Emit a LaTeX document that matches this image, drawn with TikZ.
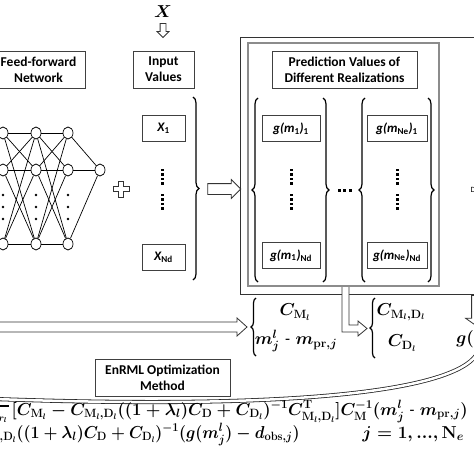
\documentclass[tikz,border=0pt]{standalone}
\usepackage{fontspec}
\setmainfont{Carlito}
\usetikzlibrary{arrows}
\usetikzlibrary{positioning}
\usetikzlibrary{shapes.geometric}
\usetikzlibrary{shapes.arrows}
\usetikzlibrary{decorations.pathreplacing}

\begin{document}
\begin{tikzpicture}[x=1pt,y=-1pt,thick,
    main node/.style={ellipse,draw,fill=white,line width=0.7pt,minimum width=10pt,minimum height=12pt,inner sep=0pt},
    label box/.style={draw=black!75,line width=0.8pt,font=\fontsize{13.5}{16}\selectfont\bfseries,align=center,minimum height=37pt,inner sep=1pt},
    value box/.style={draw=black!75,line width=0.8pt,font=\fontsize{13}{15}\selectfont\bfseries,minimum height=26pt,inner sep=1pt},
    eq node/.style={font=\fontsize{16.5}{19}\selectfont\boldmath,inner sep=0pt},
    hollow/.style={draw=black!80,line width=0.8pt,fill=white},
    hollow arrow/.style={single arrow,draw=black!80,line width=0.8pt,fill=white,single arrow head extend=4pt,inner sep=5pt},
    big brace/.style={decorate,decoration={brace,amplitude=6pt},line width=1.2pt}]
  \useasboundingbox (0,0) rectangle (474,474);

  % input and boxes on top
  \node[font=\fontsize{17}{20}\selectfont\boldmath] (x) at (163,12) {$X$};
  \node[hollow arrow,inner sep=2.5pt,single arrow head extend=3pt,minimum height=14pt,shape border rotate=270] (xarrow) at (163,29) {};
  \node[label box,minimum width=93pt] (ffn) at (38.5,69.5) {Feed-forward\\Network};
  \node[label box,minimum width=61pt] (inp) at (163.5,69.5) {Input\\Values};
  \node[label box,minimum width=145pt] (pred) at (344.5,69.5) {Prediction Values of\\Different Realizations};

  % network
  \node[main node] (a1) at (3,133) {};
  \node[main node] (a2) at (3,170) {};
  \node[main node] (a3) at (3,244) {};
  \node[main node] (b1) at (36,133) {};
  \node[main node] (b2) at (36,170) {};
  \node[main node] (b3) at (36,244) {};
  \node[main node] (c1) at (68,133) {};
  \node[main node] (c2) at (68,170) {};
  \node[main node] (c3) at (68,244) {};
  \node[main node] (out) at (100,170) {};
  \path[-,line width=0.7pt] (a1) edge (b1) edge (b2) edge (b3);
  \path[-,line width=0.7pt] (a2) edge (b1) edge (b2) edge (b3);
  \path[-,line width=0.7pt] (a3) edge (b1) edge (b2) edge (b3);
  \path[-,line width=0.7pt] (b1) edge (c1) edge (c2) edge (c3);
  \path[-,line width=0.7pt] (b2) edge (c1) edge (c2) edge (c3);
  \path[-,line width=0.7pt] (b3) edge (c1) edge (c2) edge (c3);
  \path[-,line width=0.7pt] (c1) edge (out);
  \path[-,line width=0.7pt] (c2) edge (out);
  \path[-,line width=0.7pt] (c3) edge (out);
  \fill (3,195) circle (1.3) (3,207) circle (1.3) (3,219) circle (1.3);
  \fill (36,195) circle (1.3) (36,207) circle (1.3) (36,219) circle (1.3);
  \fill (68,195) circle (1.3) (68,207) circle (1.3) (68,219) circle (1.3);

  % plus
  \draw[hollow] (118.5,181) -- (123.5,181) -- (123.5,186.5) -- (129,186.5) -- (129,191.5) -- (123.5,191.5)
     -- (123.5,197) -- (118.5,197) -- (118.5,191.5) -- (113,191.5) -- (113,186.5) -- (118.5,186.5) -- cycle;

  % input values
  \node[value box,minimum width=43pt] (x1) at (163.5,128) {\itshape X\textsubscript{\upshape 1}};
  \node[value box,minimum width=43pt] (xnd) at (163.5,257) {\itshape X\textsubscript{\upshape Nd}};
  \foreach \y in {170,174.5,179,183.5,195,199.5,204,208.5}
    \fill (161,\y-1.3) rectangle (164,\y+1.3);
  \draw[big brace] (193,97) -- (193,280);
  \node[hollow arrow,minimum height=33pt] (rarrow) at (221.5,189) {};

  % realizations
  \draw[line width=1pt,black!80] (480,37) -- (240,37) -- (240,294) -- (480,294);
  \draw[line width=1.4pt,black!45] (248,43) rectangle (439,286);
  \node[value box,minimum width=58pt] (g1a) at (291,128.5) {\itshape g(m\textsubscript{\upshape 1})\textsubscript{\upshape 1}};
  \node[value box,minimum width=58pt] (g1b) at (291,255.5) {\itshape g(m\textsubscript{\upshape 1})\textsubscript{\upshape Nd}};
  \node[value box,minimum width=60pt] (g2a) at (397,128.5) {\itshape g(m\textsubscript{\upshape Ne})\textsubscript{\upshape 1}};
  \node[value box,minimum width=60pt] (g2b) at (397,255.5) {\itshape g(m\textsubscript{\upshape Ne})\textsubscript{\upshape Nd}};
  \foreach \y in {170,174.5,179,183.5,195,199.5,204,208.5}
    \fill (289.5,\y-1.3) rectangle (292.5,\y+1.3);
  \foreach \y in {170,174.5,179,183.5,195,199.5,204,208.5}
    \fill (395.5,\y-1.3) rectangle (398.5,\y+1.3);
  \foreach \x in {339,344.5,350}
    \fill (\x-1.5,188.5) rectangle (\x+1.5,191.5);
  \draw[big brace] (258,282) -- (258,98);
  \draw[big brace] (323,98) -- (323,282);
  \draw[big brace] (365,282) -- (365,98);
  \draw[big brace] (428,98) -- (428,282);
  \node[font=\fontsize{8}{9}\selectfont,anchor=west] (dtext) at (467,190) {D};

  % covariances
  \draw[hollow] (-5,322) -- (237,322) -- (237,318) -- (247,327) -- (237,336) -- (237,332) -- (-5,332);
  \draw[hollow] (342,287) -- (342,332) -- (358,332) -- (358,336) -- (367,328.5) -- (358,321) -- (358,325) -- (349,325) -- (349,287);
  \draw[big brace,decoration={brace,amplitude=5pt}] (256,356) -- (256,298);
  \draw[big brace,decoration={brace,amplitude=5pt}] (375,358) -- (375,298);
  \node[eq node] (cm) at (295,312) {$C_{\mathbf{M}_l}$};
  \node[eq node] (mdiff) at (296,341) {$m_j^l\;\mbox{-}\;m_{\mathbf{pr},j}$};
  \node[eq node] (cmd) at (401,312) {$C_{\mathbf{M}_l,\mathbf{D}_l}$};
  \node[eq node] (cd) at (402,343) {$C_{\mathbf{D}_l}$};
  \node[hollow arrow,inner sep=4pt,single arrow head extend=6pt,single arrow tip angle=110,minimum height=30pt,shape border rotate=270] (darrow) at (476,309) {};
  \node[eq node,anchor=west] (gm) at (456,340) {$g(m_j^l)$};

  % optimization
  \node[label box,minimum width=135pt] (enrml) at (162.5,377.5) {EnRML Optimization\\Method};
  \coordinate (cstart) at (478,352);
  \coordinate (cend) at (-5,399);
  \draw[double=white,double distance=2.5pt,line width=0.8pt,black!85] (cstart) .. controls (462,386) and (330,411) .. (cend);

  % update equations
  \draw[line width=1.2pt] (-2,406) -- (9,406);
  \node[font=\fontsize{10}{12}\selectfont\boldmath] (rl) at (3,420) {$r_l$};
  \node[eq node,anchor=base east] (upd1) at (468,415) {\resizebox{456pt}{\height}{$[C_{\mathbf{M}_l} - C_{\mathbf{M}_l,\mathbf{D}_l}((1+\lambda_l)C_{\mathbf{D}} + C_{\mathbf{D}_l})^{-1}C^{\mathbf{T}}_{\mathbf{M}_l,\mathbf{D}_l}]C_{\mathbf{M}}^{-1}(m_j^l\;\mbox{-}\;m_{\mathbf{pr},j})$}};
  \node[eq node,anchor=base east] (upd2) at (300,438) {\resizebox{328pt}{\height}{$C_{\mathbf{M}_l,\mathbf{D}_l}((1+\lambda_l)C_{\mathbf{D}} + C_{\mathbf{D}_l})^{-1}(g(m_j^l) - d_{\mathbf{obs},j})$}};
  \node[eq node,anchor=base west] (jrange) at (362,438) {$j = 1,...,\mathbf{N}_e$};
\end{tikzpicture}
\end{document}
